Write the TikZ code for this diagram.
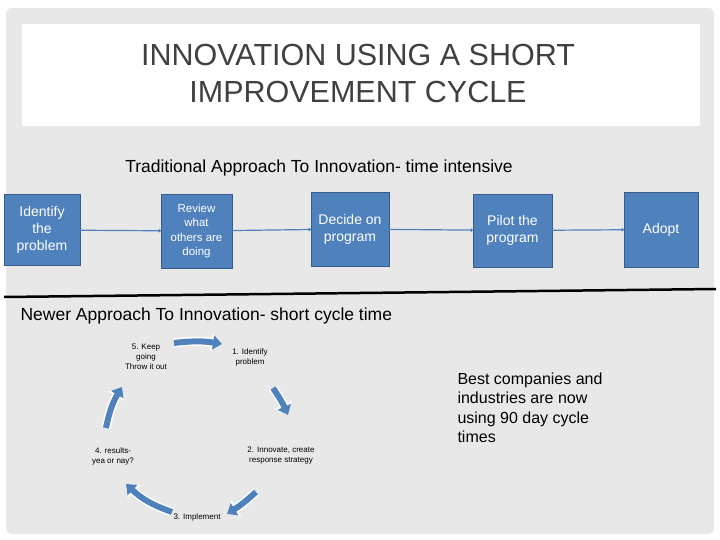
\documentclass[tikz,border=0pt]{standalone}
\usepackage{fontspec}
\setmainfont{Liberation Sans}
\usetikzlibrary{arrows.meta}
\definecolor{boxblue}{RGB}{79,129,189}
\definecolor{edgeblue}{RGB}{56,93,138}
\definecolor{slidegray}{RGB}{232,232,232}
\tikzset{
  stepbox/.style={draw=edgeblue, fill=boxblue, text=white, font=\fontsize{14}{17}\selectfont, align=center, inner sep=1pt},
  flow/.style={draw=boxblue, line width=1.2pt, -{Circle[length=3pt]}},
  cyclabel/.style={font=\fontsize{8}{10}\selectfont, align=center},
  cycarrow/.style={line width=6pt, draw=boxblue, -{Triangle[length=9pt,width=14pt]}, preaction={draw=white, line width=9pt, -{Triangle[length=11pt,width=18pt]}}}
}
\begin{document}
\begin{tikzpicture}[x=1pt,y=-1pt]
\useasboundingbox (0,0) rectangle (720,540);
\fill[white] (0,0) rectangle (720,540);
\fill[slidegray, rounded corners=6pt] (6,8) rectangle (714,534);
\fill[white] (22,24) rectangle (700,126);
% title
\node[font=\fontsize{30.5}{37}\selectfont, align=center, text=black!75] (title) at (358,74) {INNOVATION USING A SHORT\\IMPROVEMENT CYCLE};
\node[font=\fontsize{17.5}{20}\selectfont] (trad) at (319,168) {Traditional Approach To Innovation- time intensive};
% traditional chain
\node[stepbox, minimum width=76pt, minimum height=71pt] (b1) at (42,230) {Identify\\the\\problem};
\node[stepbox, minimum width=71pt, minimum height=74pt, font=\fontsize{11.5}{14.5}\selectfont] (b2) at (196.5,231) {Review\\what\\others are\\doing};
\node[stepbox, minimum width=78pt, minimum height=74pt] (b3) at (350,229) {Decide on\\program};
\node[stepbox, minimum width=79pt, minimum height=73pt] (b4) at (512.5,230.5) {Pilot the\\program};
\node[stepbox, minimum width=74pt, minimum height=75pt] (b5) at (661,229.5) {Adopt};
\draw[flow] (b1) -- (b2);
\draw[flow] (b2) -- (b3);
\draw[flow] (b3) -- (b4);
\draw[flow] (b4) -- (b5);
\coordinate (lineL) at (4,297);
\coordinate (lineR) at (716,289);
\draw[line width=2.5pt] (lineL) -- (lineR);
% newer approach
\node[font=\fontsize{17.5}{20}\selectfont, anchor=west] (newer) at (17,316) {Newer Approach To Innovation- short cycle time};
\node[cyclabel] (c5) at (146,357) {5. Keep\\going\\Throw it out};
\node[cyclabel] (c1) at (250,357) {1. Identify\\problem};
\node[cyclabel] (c2) at (281,456) {2. Innovate, create\\response strategy};
\node[cyclabel] (c3) at (197,517) {3. Implement};
\node[cyclabel] (c4) at (113,456) {4. results-\\yea or nay?};
\coordinate (a1s) at (174,343); \coordinate (a1e) at (222,344);
\coordinate (a2s) at (273,388); \coordinate (a2e) at (288,415);
\coordinate (a3s) at (256,492); \coordinate (a3e) at (227,514);
\coordinate (a4s) at (172,512); \coordinate (a4e) at (126,484);
\coordinate (a5s) at (106,428); \coordinate (a5e) at (122,387);
\draw[cycarrow] (a1s) to[bend left=8] (a1e);
\draw[cycarrow] (a2s) to[bend left=5] (a2e);
\draw[cycarrow] (a3s) to[bend left=5] (a3e);
\draw[cycarrow] (a4s) to[bend left=12] (a4e);
\draw[cycarrow] (a5s) to[bend left=10] (a5e);
\node[font=\fontsize{16}{19.5}\selectfont, align=left, anchor=north west] (best) at (454,369) {Best companies and\\industries are now\\using 90 day cycle\\times};
\end{tikzpicture}
\end{document}
